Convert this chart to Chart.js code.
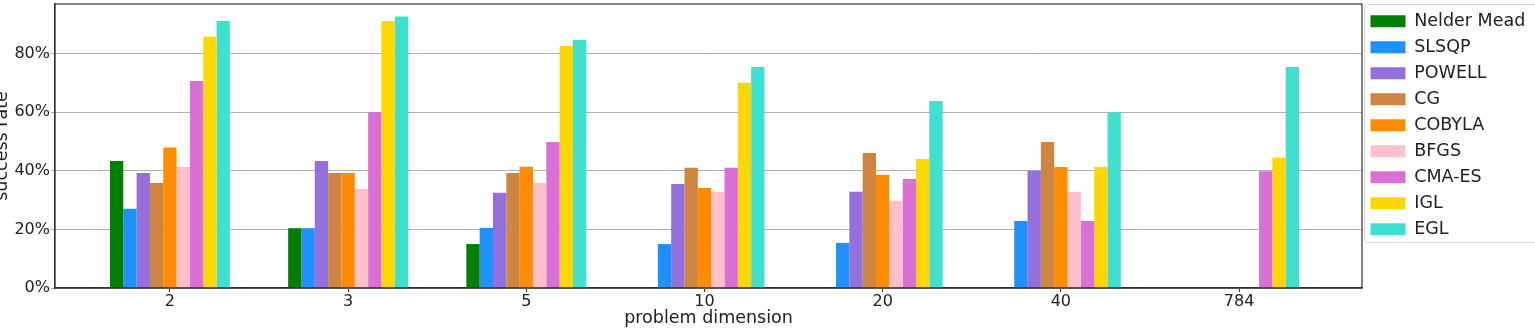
<!DOCTYPE html>
<html>
<head>
<meta charset="utf-8">
<script src="https://cdn.jsdelivr.net/npm/chart.js@4"></script>
<style>
  html, body { margin: 0; padding: 0; background: #fff; }
  #caja { width: 1535px; height: 329px; }
</style>
</head>
<body>
<div id="caja"><canvas id="lienzo"></canvas></div>
<script>
// dimensiones del problema (eje x)
const dims = ['2', '3', '5', '10', '20', '40', '784']
const yTicks = [0, 20, 40, 60, 80]

// tasa de exito en %, una lista por metodo
const nelderMead = [43.3, 20.4, 15.0, null, null, null, null]
const slsqp      = [27.0, 20.4, 20.5, 15.0, 15.4, 22.9, null]
const powell     = [39.2, 43.3, 32.5, 35.5, 32.8, 40.0, null]
const cg         = [35.8, 39.2, 39.2, 41.0, 46.1, 49.8, null]
const cobyla     = [47.9, 39.2, 41.4, 34.1, 38.6, 41.3, null]
const bfgs       = [41.3, 33.8, 35.8, 32.8, 29.7, 32.8, null]
const cmaes      = [70.6, 60.0, 49.8, 41.0, 37.2, 22.9, 39.8]
const igl        = [85.7, 91.1, 82.6, 70.0, 44.0, 41.3, 44.4]
const egl        = [91.1, 92.6, 84.6, 75.4, 63.8, 60.0, 75.4]

const metodos = ['Nelder Mead', 'SLSQP', 'POWELL', 'CG', 'COBYLA', 'BFGS', 'CMA-ES', 'IGL', 'EGL']
const series = [nelderMead, slsqp, powell, cg, cobyla, bfgs, cmaes, igl, egl]
const colores = ['#008000', '#1e90ff', '#9370db', '#cd853f', '#ff8c00', '#ffc0cb', '#da70d6', '#ffd700', '#40e0d0']

const fuente = 'DejaVu Sans'
const texto = '#222'

const datasets = series.map((valores, k) => ({
    label: metodos[k],
    data: valores.map((v, i) => ({x: i, y: v})),
    backgroundColor: colores[k],
    borderWidth: 0,
    barPercentage: 1,
    categoryPercentage: 0.673
}))

// marco del area de dibujo y de la leyenda
const marco = {
    id: 'marco',
    afterDraw(chart) {
        const {ctx, chartArea: a, legend} = chart
        ctx.save()
        const cajas = legend.legendHitBoxes
        const ultima = cajas[cajas.length - 1]
        const abajo = ultima.top + ultima.height + 4
        ctx.strokeStyle = '#d6d6d6'
        ctx.lineWidth = 1
        ctx.beginPath()
        ctx.roundRect(legend.left + 2.5, a.top + 0.5, 200, abajo - a.top, 3)
        ctx.stroke()
        ctx.strokeStyle = '#333'
        ctx.lineWidth = 1.2
        ctx.strokeRect(a.left, a.top, a.right - a.left, a.bottom - a.top)
        ctx.restore()
    }
}

new Chart(document.getElementById('lienzo'), {
    type: 'bar',
    data: { datasets: datasets },
    plugins: [marco],
    options: {
        responsive: true,
        maintainAspectRatio: false,
        animation: false,
        layout: { padding: { top: 4, left: 0, right: 0, bottom: 0 } },
        plugins: {
            tooltip: { enabled: false },
            legend: {
                position: 'right',
                align: 'start',
                maxWidth: 173,
                labels: {
                    boxWidth: 35,
                    boxHeight: 12,
                    padding: 8.5,
                    color: texto,
                    font: { family: fuente, size: 17.5 }
                }
            }
        },
        scales: {
            x: {
                type: 'linear',
                offset: false,
                min: -0.645,
                max: 6.69,
                afterBuildTicks: (s) => { s.ticks = dims.map((d, i) => ({value: i})) },
                afterFit: (s) => { s.height = 41; s.paddingLeft = 0; s.paddingRight = 0 },
                ticks: {
                    padding: 0,
                    color: texto,
                    font: { family: fuente, size: 16 },
                    callback: (v) => dims[v]
                },
                grid: { offset: false, drawOnChartArea: false, tickLength: 4, color: '#333' },
                border: { color: '#333', width: 1.2 },
                title: {
                    display: true,
                    text: 'problem dimension',
                    color: texto,
                    font: { family: fuente, size: 17.5 },
                    padding: { top: 0, bottom: 0 }
                }
            },
            y: {
                min: 0,
                max: 96.9,
                afterBuildTicks: (s) => { s.ticks = yTicks.map(v => ({value: v})) },
                afterFit: (s) => { s.width = 55; s.paddingTop = 0; s.paddingBottom = 0 },
                ticks: {
                    padding: 1,
                    color: texto,
                    font: { family: fuente, size: 16 },
                    callback: (v) => v + '%'
                },
                grid: { color: '#b0b0b0', tickLength: 4 },
                border: { color: '#333', width: 1.2 },
                title: {
                    display: true,
                    text: 'success rate',
                    color: texto,
                    font: { family: fuente, size: 17.5 },
                    padding: { top: -8, bottom: 0 }
                }
            }
        }
    }
})
</script>
</body>
</html>
